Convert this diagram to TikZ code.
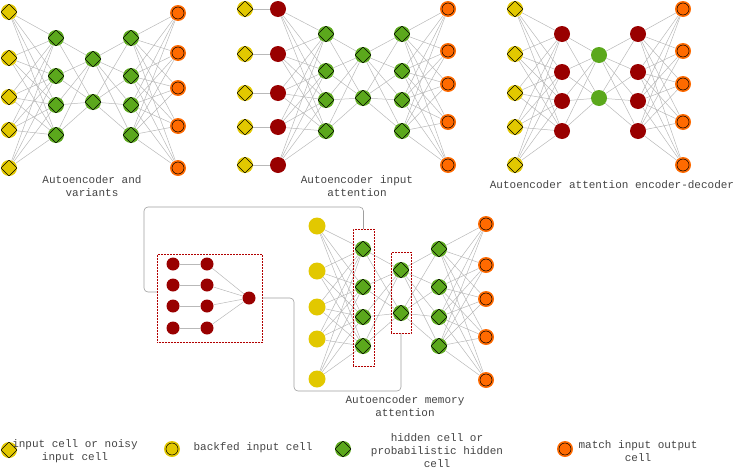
\documentclass[tikz,border=0pt]{standalone}
\usepackage{fontspec}
\setmonofont{Liberation Mono}
\usetikzlibrary{fit}
\definecolor{cyel}{HTML}{E2C800}
\definecolor{cgrn}{HTML}{5BA81C}
\definecolor{cred}{HTML}{990000}
\definecolor{corg}{HTML}{FF6A00}
\definecolor{ctxt}{HTML}{444444}
\tikzset{
  cell/.style={circle,minimum size=16pt,inner sep=0pt,draw=none},
  inp/.style={cell,fill=cyel,path picture={\draw[black,line width=0.5pt] (path picture bounding box.north) -- (path picture bounding box.east) -- (path picture bounding box.south) -- (path picture bounding box.west) -- cycle;}},
  hid/.style={cell,fill=cgrn,path picture={\draw[black,line width=0.5pt] (path picture bounding box.north) -- (path picture bounding box.east) -- (path picture bounding box.south) -- (path picture bounding box.west) -- cycle;}},
  gc/.style={cell,fill=cgrn},
  rc/.style={cell,fill=cred},
  src/.style={cell,fill=cred,minimum size=13pt},
  bf/.style={cell,fill=cyel,minimum size=17pt},
  outc/.style={cell,fill=corg,path picture={\draw[black,line width=0.5pt] (path picture bounding box.center) circle (6pt);}},
  conn/.style={draw=gray!55,line width=0.5pt},
  dbox/.style={draw=red!70!black,densely dotted,line width=0.5pt,inner sep=#1},
  dbox/.default=3pt,
  loopl/.style={draw=gray!75,line width=0.6pt,rounded corners=4pt},
  lbl/.style={font=\fontsize{11}{13}\selectfont\ttfamily,text=ctxt,align=center,inner sep=0pt},
}
\newcommand\mklayer[4]{\foreach \yy [count=\ii] in {#4} {\node[#2] (#1\ii) at (#3,\yy) {};}}
\newcommand\fcon[4]{\foreach \ii in {1,...,#2}{\foreach \jj in {1,...,#4}{\draw[conn] (#1\ii) -- (#3\jj);}}}
\begin{document}
\begin{tikzpicture}[x=1pt,y=-1pt]
\useasboundingbox (0,0) rectangle (747,474);
% net 1
\mklayer{aa}{inp}{9}{12,58,97,130,168}
\mklayer{ab}{hid}{56}{38,76,105,135}
\mklayer{ac}{hid}{93}{59,102}
\mklayer{ad}{hid}{131}{38,76,105,135}
\mklayer{ae}{outc}{178}{13,53,88,126,168}
\fcon{aa}{5}{ab}{4}\fcon{ab}{4}{ac}{2}\fcon{ac}{2}{ad}{4}\fcon{ad}{4}{ae}{5}
\node[lbl] (la) at (92,186) {Autoencoder and\\variants};
% net 2
\mklayer{ba}{inp}{245}{9,54,93,127,165}
\mklayer{bb}{rc}{278}{9,54,93,127,165}
\mklayer{bc}{hid}{326}{34,71,100,131}
\mklayer{bd}{hid}{363}{55,98}
\mklayer{be}{hid}{402}{34,71,100,131}
\mklayer{bf}{outc}{448}{9,51,84,122,165}
\foreach \ii in {1,...,5}{\draw[conn] (ba\ii) -- (bb\ii);}
\fcon{bb}{5}{bc}{4}\fcon{bc}{4}{bd}{2}\fcon{bd}{2}{be}{4}\fcon{be}{4}{bf}{5}
\node[lbl] (lb) at (357,186) {Autoencoder input\\attention};
% net 3
\mklayer{ca}{inp}{515}{9,54,93,127,165}
\mklayer{cb}{rc}{562}{34,72,101,131}
\mklayer{cc}{gc}{599}{55,98}
\mklayer{cd}{rc}{638}{34,72,101,131}
\mklayer{ce}{outc}{683}{9,51,84,122,165}
\fcon{ca}{5}{cb}{4}\fcon{cb}{4}{cc}{2}\fcon{cc}{2}{cd}{4}\fcon{cd}{4}{ce}{5}
\node[lbl] (lc) at (612,185) {Autoencoder attention encoder-decoder};
% net 4
\mklayer{ma}{src}{173}{264,285,306,328}
\mklayer{mb}{src}{207}{264,285,306,328}
\node[src] (mc) at (249,298) {};
\foreach \ii in {1,...,4}{\draw[conn] (ma\ii) -- (mb\ii); \draw[conn] (mb\ii) -- (mc);}
\node[dbox,fit={(157,254) (262,342)},inner sep=0pt] (box1) {};
\mklayer{da}{bf}{317}{226,271,307,339,379}
\mklayer{db}{hid}{363}{249,287,317,346}
\mklayer{dc}{hid}{401}{270,313}
\mklayer{dd}{hid}{439}{249,287,317,346}
\mklayer{de}{outc}{486}{224,265,299,337,380}
\fcon{da}{5}{db}{4}\fcon{db}{4}{dc}{2}\fcon{dc}{2}{dd}{4}\fcon{dd}{4}{de}{5}
\node[dbox,fit={(353,229) (374,366)},inner sep=0pt] (box2) {};
\node[dbox,fit={(391,252) (411,333)},inner sep=0pt] (box3) {};
\draw[loopl] ([yshift=6pt]box1.west) -| (144,207) -| (box2.north);
\draw[loopl] (box1.east) -| (294,391) -| (box3.south);
\node[lbl] (ld) at (405,406) {Autoencoder memory\\attention};
% legend
\node[inp] (g1) at (9,450) {};
\node[lbl] (t1) at (75,451) {input cell or noisy\\input cell};
\node[bf,minimum size=16pt,path picture={\draw[black,line width=0.5pt] (path picture bounding box.center) circle (6pt);}] (g2) at (172,449) {};
\node[lbl] (t2) at (253,448) {backfed input cell};
\node[hid] (g3) at (343,449) {};
\node[lbl] (t3) at (437,451) {hidden cell or\\probabilistic hidden\\cell};
\node[outc] (g4) at (565,449) {};
\node[lbl] (t4) at (638,451) {match input output\\cell};
\end{tikzpicture}
\end{document}
